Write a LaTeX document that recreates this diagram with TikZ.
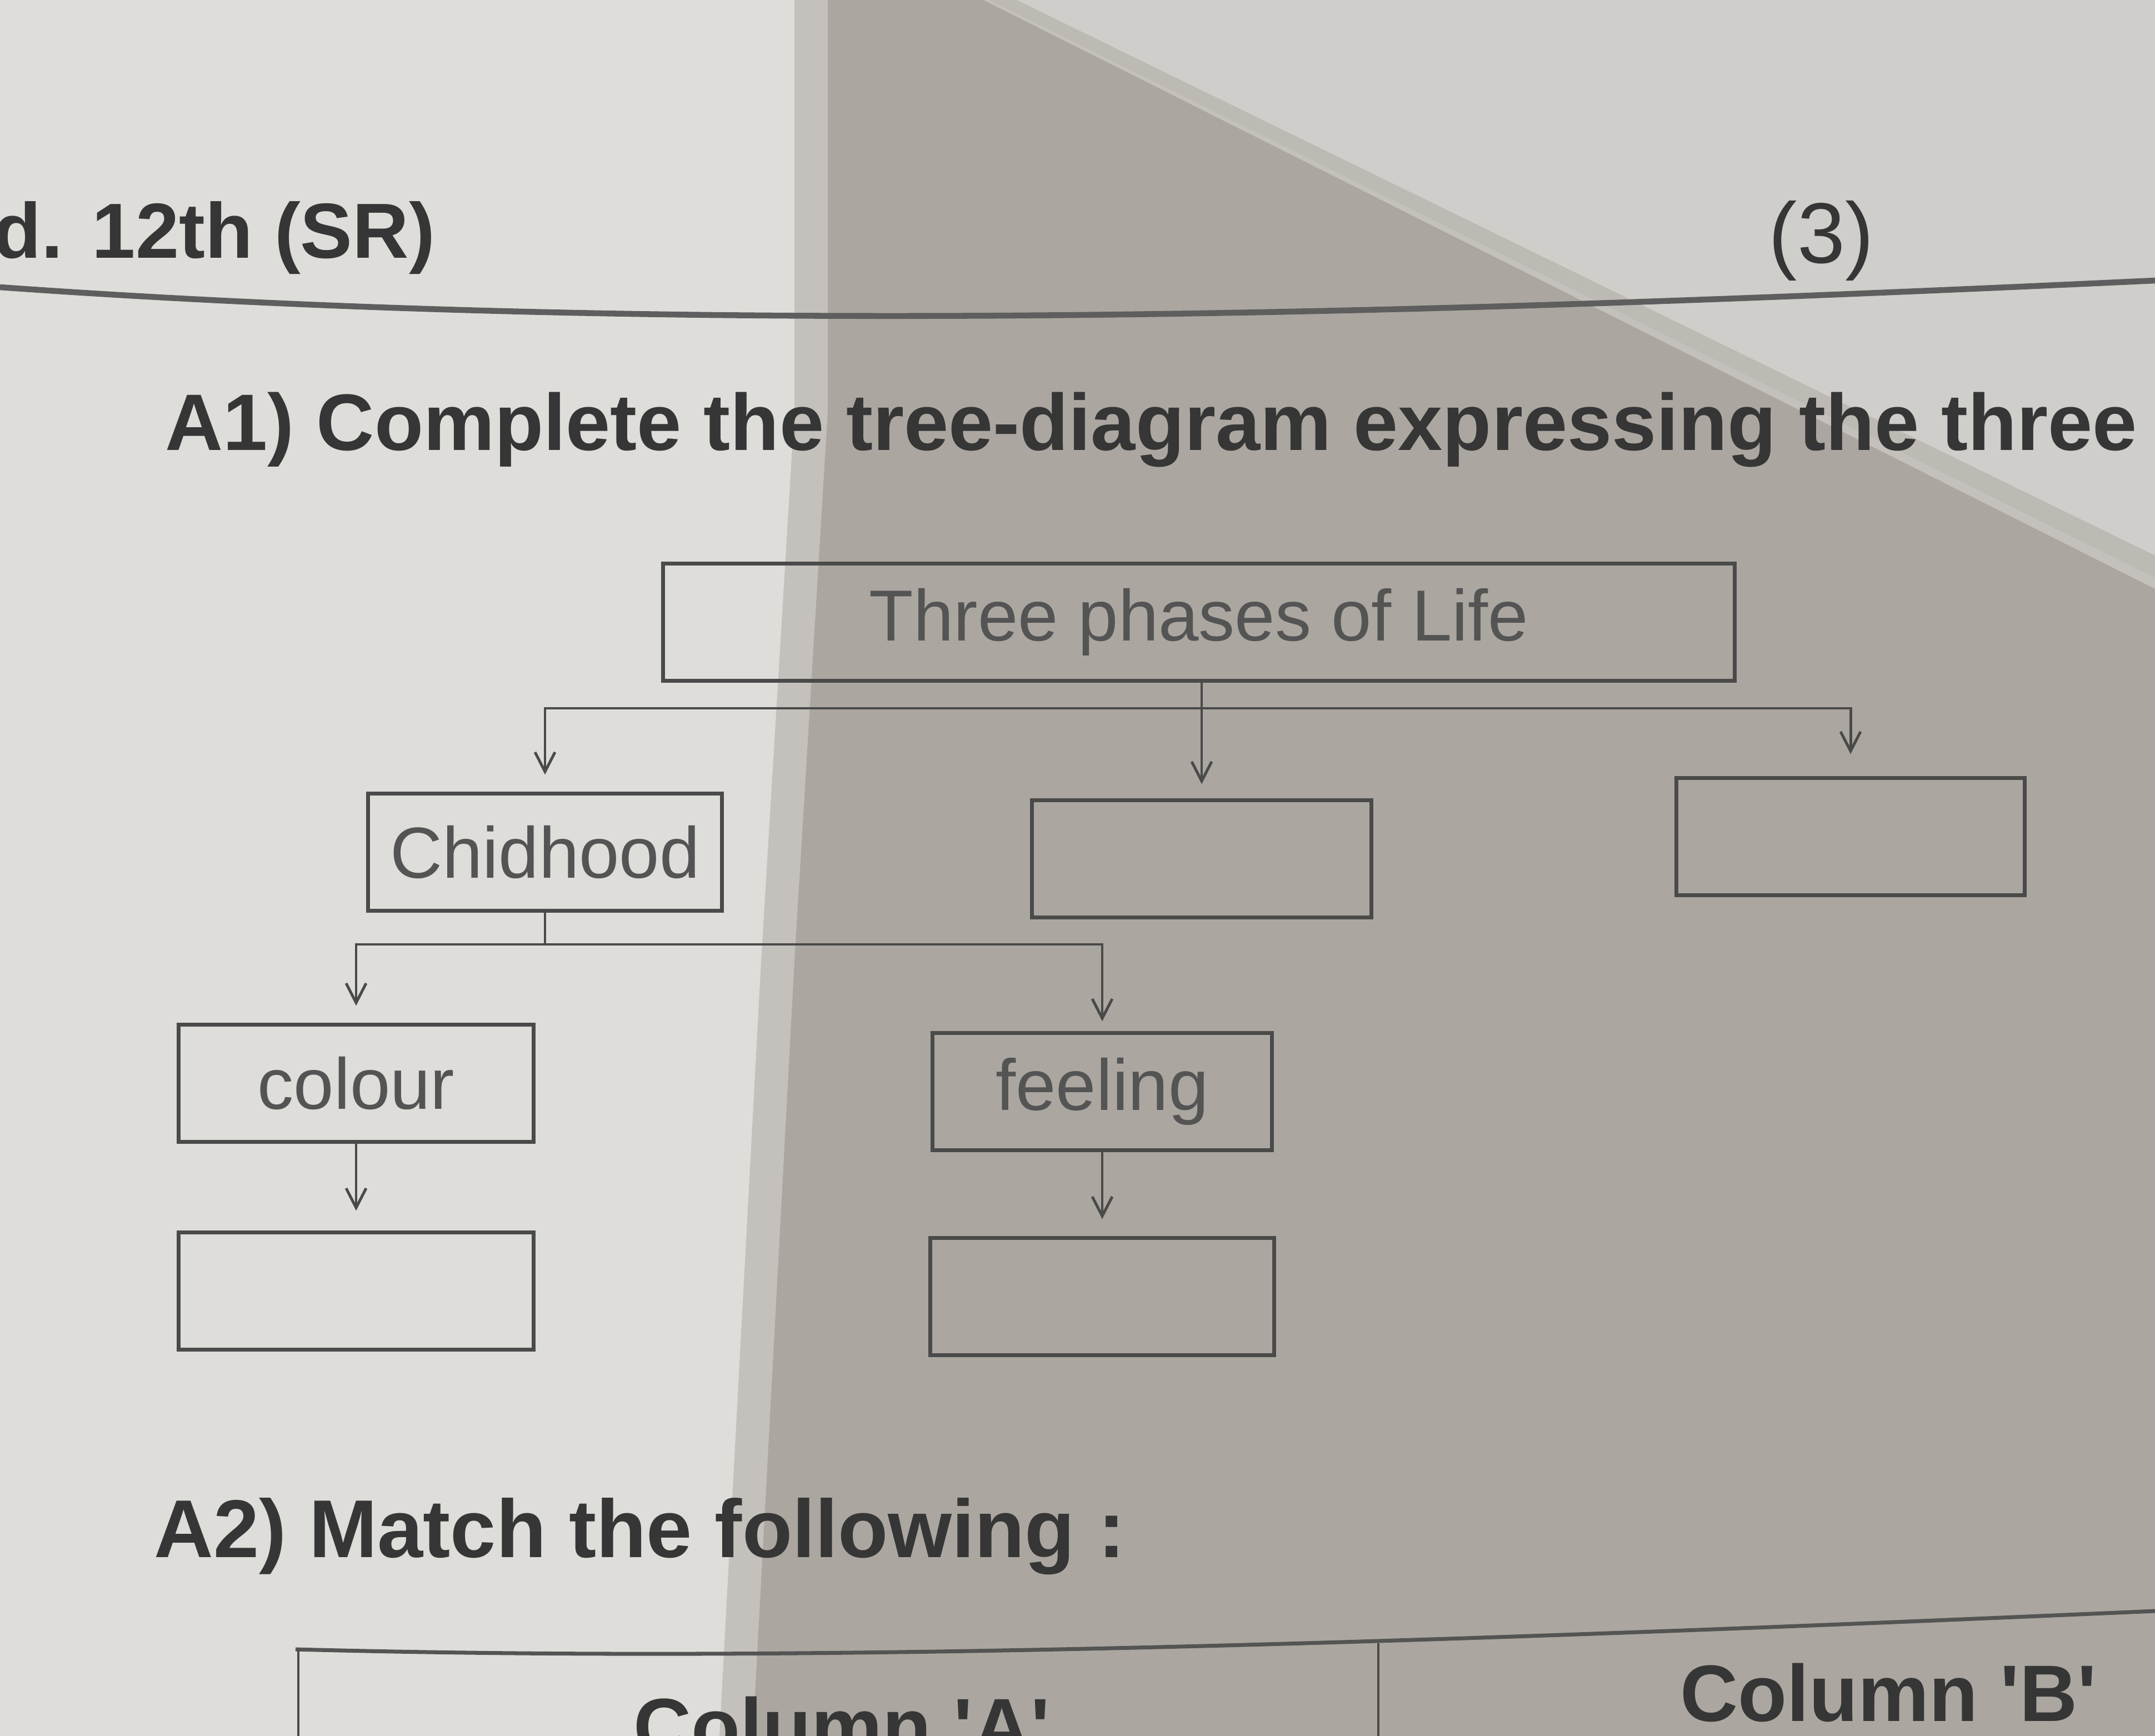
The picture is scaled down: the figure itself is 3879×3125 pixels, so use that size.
\documentclass[tikz,border=0pt]{standalone}
\usepackage{fontspec}
\setmainfont{Liberation Sans}
\usetikzlibrary{arrows.meta}
\definecolor{paper}{HTML}{DEDDD9}
\definecolor{paperdim}{HTML}{D0CECA}
\definecolor{shadowgray}{HTML}{ABA7A0}
\definecolor{ink}{HTML}{363636}
\definecolor{boxink}{HTML}{4A4A4A}
\tikzset{
  box/.style={draw=boxink, line width=2pt, minimum height=2.1cm, inner sep=0pt,
    text=ink!85, font=\fontsize{37}{40}\selectfont},
  conn/.style={draw=boxink, line width=1.4pt,
    -{Straight Barb[length=0.35cm,width=0.36cm,line width=1.4pt]}},
  plainline/.style={draw=boxink, line width=1.4pt},
  heading/.style={text=ink, inner sep=0pt, font=\bfseries\fontsize{42}{46}\selectfont},
  rule/.style={draw=ink!80, line width=3pt},
}
\begin{document}
\begin{tikzpicture}[x=0.01cm,y=-0.01cm]
\useasboundingbox (0,0) rectangle (3879,3125);
\clip (0,0) rectangle (3879,3125);
% paper and shadow
\fill[paper] (0,0) rectangle (3879,3125);
\fill[paperdim] (1780,0) -- (3879,0) -- (3879,1040) -- cycle;
\fill[shadowgray, opacity=0.5] (1430,0) -- (1830,0) -- (3879,1000) -- (3879,3125) -- (1295,3125)
  -- (1370,1730) -- (1430,740) -- cycle;
\fill[shadowgray] (1490,0) -- (1770,0) -- (3879,1060) -- (3879,3125) -- (1355,3125)
  -- (1430,1730) -- (1490,740) -- cycle;

% header
\node[heading, anchor=base west, font=\bfseries\fontsize{40}{44}\selectfont] (hdr) at (-12,465) {d. 12th (SR)};
\node[heading, anchor=base, font=\fontsize{44}{48}\selectfont] (pg) at (3278,474) {(3)};
\draw[rule] (0,517) .. controls (1300,610) and (2700,560) .. (3879,505);

% question A1
\node[heading, anchor=base west, font=\bfseries\fontsize{41}{44}\selectfont] (qa) at (297,811)
  {A1) Complete the tree-diagram expressing the three};

% tree
\node[box, minimum width=19.27cm] (root) at (2158,1120) {Three phases of Life};
\node[box, minimum width=6.36cm] (chid) at (981,1534) {Chidhood};
\node[box, minimum width=6.11cm] (mid) at (2163,1546) {};
\node[box, minimum width=6.26cm] (rgt) at (3331,1506) {};
\node[box, minimum width=6.38cm] (col) at (641,1950) {colour};
\node[box, minimum width=6.11cm] (feel) at (1984,1965) {feeling};
\node[box, minimum width=6.38cm] (colb) at (641,2324) {};
\node[box, minimum width=6.19cm] (feelb) at (1984,2334) {};

\coordinate (bus) at (2163,1275);
\draw[conn, shorten >=0.26cm] (root.south -| mid.north) -- (mid.north);
\draw[conn, shorten >=0.31cm] (bus) -| (chid.north);
\draw[conn, shorten >=0.40cm] (bus) -| (rgt.north);

\coordinate (sbus) at (981,1700);
\draw[plainline] (chid.south) -- (sbus);
\draw[conn, shorten >=0.31cm] (sbus) -| (col.north);
\draw[conn, shorten >=0.18cm] (sbus) -| (feel.north);
\draw[conn, shorten >=0.36cm] (col.south) -- (colb.north);
\draw[conn, shorten >=0.31cm] (feel.south) -- (feelb.north);

% question A2
\node[heading, anchor=base west] (qb) at (277,2803) {A2) Match the following :};

% table head
\draw[draw=ink!85, line width=2pt] (532,2969) .. controls (1400,2992) and (2400,2965) .. (3879,2900);
\draw[plainline, line width=1.1pt] (537,2969) -- (537,3125);
\draw[plainline, line width=1.1pt] (2481,2958) -- (2481,3125);
\node[heading, anchor=base, font=\bfseries\fontsize{41}{44}\selectfont] (ca) at (1515,3158)
  {Column \textquotesingle A\textquotesingle};
\node[heading, anchor=base, font=\bfseries\fontsize{41}{44}\selectfont] (cb) at (3399,3098)
  {Column \textquotesingle B\textquotesingle};
\end{tikzpicture}
\end{document}
